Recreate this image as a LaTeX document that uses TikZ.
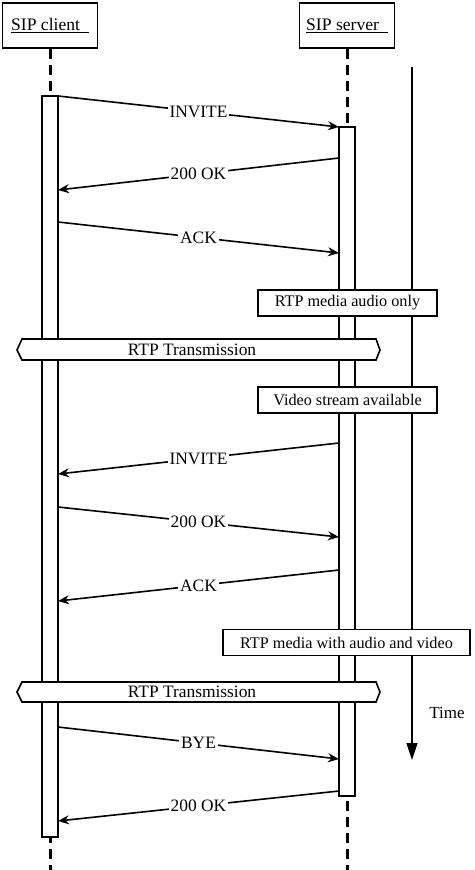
\documentclass[tikz,border=0pt]{standalone}
\usepackage{fontspec}
\setmainfont{Liberation Serif}
\usetikzlibrary{arrows.meta}
\begin{document}
\begin{tikzpicture}[x=1pt,y=-1pt,
  line width=1.6pt,
  actor/.style={draw, fill=white, minimum width=95pt, minimum height=45pt, inner sep=0pt, font=\fontsize{17.6}{20}\selectfont},
  life/.style={line width=3pt, dash pattern=on 10pt off 6pt},
  bar/.style={draw, fill=white},
  note/.style={draw, fill=white, inner sep=0pt, minimum height=26pt, font=\fontsize{16.2}{19}\selectfont},
  msg/.style={-{Stealth[length=11pt,width=9pt]}},
  lbl/.style={fill=white, inner sep=2pt, font=\fontsize{17.4}{20}\selectfont},
  band/.style={draw, fill=white}
]
\useasboundingbox (0,0) rectangle (474,870);
% actors
\node[actor] (client) at (50,25.5) {\underline{SIP client\ \ }};
\node[actor] (server) at (347,25.5) {\underline{SIP server\ \ }};
% lifelines
\coordinate (cl1) at (50,870);
\coordinate (sl1) at (347,870);
\draw[life] (client.south) -- (cl1);
\draw[life] (server.south) -- (sl1);
% time arrow
\coordinate (t0) at (412,67);
\coordinate (t1) at (412,760);
\draw[-{Triangle[length=17pt,width=11pt]}] (t0) -- (t1);
\node[font=\fontsize{17}{19}\selectfont] (time) at (447,713) {Time};
% activation bars
\draw[bar] (42,96) rectangle (58,837);
\draw[bar] (339,127) rectangle (355,796);
% notes
\node[note, minimum width=179pt] (n1) at (347.5,303) {RTP media audio only};
\node[note, minimum width=179pt] (n2) at (347.5,400) {Video stream available};
\node[note, minimum width=247pt] (n3) at (346.5,642.5) {RTP media with audio and video};
% RTP transmission bands
\draw[band] (17,350) -- (22,339) -- (376,339) -- (380,350) -- (376,360) -- (22,360) -- cycle;
\node[font=\fontsize{17.4}{20}\selectfont] (b1) at (192,350) {RTP Transmission};
\draw[band] (17,692) -- (22,682) -- (376,682) -- (380,692) -- (376,702) -- (22,702) -- cycle;
\node[font=\fontsize{17.4}{20}\selectfont] (b2) at (192,692) {RTP Transmission};
% message end points
\coordinate (c1) at (58,96);   \coordinate (s1) at (339,127);
\coordinate (s2) at (339,158); \coordinate (c2) at (58,190);
\coordinate (c3) at (58,222);  \coordinate (s3) at (339,253);
\coordinate (s4) at (339,443); \coordinate (c4) at (58,474);
\coordinate (c5) at (58,507);  \coordinate (s5) at (339,537);
\coordinate (s6) at (339,570); \coordinate (c6) at (58,601);
\coordinate (c7) at (58,727);  \coordinate (s7) at (339,759);
\coordinate (s8) at (339,791); \coordinate (c8) at (58,821);
% messages
\draw[msg] (c1) -- node[lbl] {INVITE} (s1);
\draw[msg] (s2) -- node[lbl] {200 OK} (c2);
\draw[msg] (c3) -- node[lbl] {ACK} (s3);
\draw[msg] (s4) -- node[lbl] {INVITE} (c4);
\draw[msg] (c5) -- node[lbl] {200 OK} (s5);
\draw[msg] (s6) -- node[lbl] {ACK} (c6);
\draw[msg] (c7) -- node[lbl] {BYE} (s7);
\draw[msg] (s8) -- node[lbl] {200 OK} (c8);
\end{tikzpicture}
\end{document}
